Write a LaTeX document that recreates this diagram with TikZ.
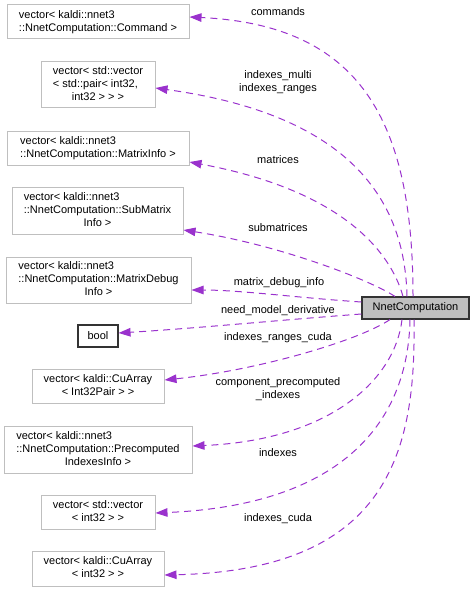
\documentclass[tikz,border=0pt]{standalone}
\usepackage{fontspec}
\setmainfont{Liberation Sans}
\usetikzlibrary{arrows.meta}
\definecolor{edgec}{HTML}{9A32CD}
\definecolor{boxg}{HTML}{BFBFBF}
\newcommand{\lastc}[1]{\multicolumn{1}{@{}c@{}}{#1}}
\begin{document}
\begin{tikzpicture}[x=1pt,y=-1pt,
  every node/.style={font=\fontsize{11}{13}\selectfont, inner sep=0pt},
  cls/.style={draw=boxg, line width=1pt, fill=white},
  mainbox/.style={draw=black!80, line width=1.1pt, fill=boxg},
  plainbox/.style={draw=black!80, line width=1.1pt, fill=white},
  rel/.style={draw=edgec, line width=1pt, dash pattern=on 7pt off 5pt,
    -{Triangle[length=12pt,width=8.5pt]}},
  lbl/.style={align=center, fill=none}
]
\useasboundingbox (0,0) rectangle (474,591);

% nodes
\node[cls, minimum width=182pt, minimum height=34pt] (cmd) at (98,22)
  {\begin{tabular}{@{}l@{}}vector< kaldi::nnet3\\\lastc{::NnetComputation::Command >}\end{tabular}};
\node[cls, minimum width=114pt, minimum height=46pt] (pair) at (98,85)
  {\begin{tabular}{@{}l@{}}vector< std::vector\\< std::pair< int32,\\\lastc{int32 > > >}\end{tabular}};
\node[cls, minimum width=182pt, minimum height=34pt] (minfo) at (98,148)
  {\begin{tabular}{@{}l@{}}vector< kaldi::nnet3\\\lastc{::NnetComputation::MatrixInfo >}\end{tabular}};
\node[cls, minimum width=171pt, minimum height=47pt] (subm) at (97.5,210.5)
  {\begin{tabular}{@{}l@{}}vector< kaldi::nnet3\\::NnetComputation::SubMatrix\\\lastc{Info >}\end{tabular}};
\node[cls, minimum width=185pt, minimum height=46pt] (mdbg) at (98.5,280)
  {\begin{tabular}{@{}l@{}}vector< kaldi::nnet3\\::NnetComputation::MatrixDebug\\\lastc{Info >}\end{tabular}};
\node[plainbox, minimum width=40pt, minimum height=22pt] (bool) at (98,336) {bool};
\node[cls, minimum width=132pt, minimum height=34pt] (cuip) at (98,386)
  {\begin{tabular}{@{}l@{}}vector< kaldi::CuArray\\\lastc{< Int32Pair > >}\end{tabular}};
\node[cls, minimum width=188pt, minimum height=47pt] (prec) at (98,449.5)
  {\begin{tabular}{@{}l@{}}vector< kaldi::nnet3\\::NnetComputation::Precomputed\\\lastc{IndexesInfo >}\end{tabular}};
\node[cls, minimum width=114pt, minimum height=34pt] (vint) at (98,512)
  {\begin{tabular}{@{}l@{}}vector< std::vector\\\lastc{< int32 > >}\end{tabular}};
\node[cls, minimum width=132pt, minimum height=35pt] (cuint) at (98,568.5)
  {\begin{tabular}{@{}l@{}}vector< kaldi::CuArray\\\lastc{< int32 > >}\end{tabular}};
\node[mainbox, minimum width=107pt, minimum height=22pt] (nnet) at (415.5,308) {NnetComputation};

% edges
\draw[rel] ([xshift=-2.5pt]nnet.north) .. controls (413,120) and (360,25) .. ([yshift=5pt]cmd.east);
\draw[rel] ([xshift=-8.5pt]nnet.north) .. controls (405,200) and (350,115) .. ([yshift=-3pt]pair.east);
\draw[rel] ([xshift=-12.5pt]nnet.north) .. controls (390,250) and (340,190) .. ([yshift=-14pt]minfo.east);
\draw[rel] ([xshift=-20.5pt]nnet.north) .. controls (370,280) and (280,245) .. ([yshift=-19.5pt]subm.east);
\draw[rel] ([yshift=6pt]nnet.west) .. controls (300,298) and (240,290) .. ([yshift=-10pt]mdbg.east);
\draw[rel] ([yshift=-6pt]nnet.west) .. controls (280,320) and (200,328) .. ([yshift=3pt]bool.east);
\draw[rel] ([xshift=-25.5pt]nnet.south) .. controls (360,340) and (260,370) .. ([yshift=6pt]cuip.east);
\draw[rel] ([xshift=-13.5pt]nnet.south) .. controls (395,380) and (330,440) .. ([yshift=3.5pt]prec.east);
\draw[rel] ([xshift=-5.5pt]nnet.south) .. controls (408,420) and (345,505) .. ([yshift=-1pt]vint.east);
\draw[rel] ([xshift=-1.5pt]nnet.south) .. controls (416,450) and (390,570) .. ([yshift=-6.5pt]cuint.east);

% labels
\node[lbl] (lcmd) at (278,12) {commands};
\node[lbl] (lpair) at (278,82) {indexes\_multi\\indexes\_ranges};
\node[lbl] (lminfo) at (278,160) {matrices};
\node[lbl] (lsubm) at (278,228) {submatrices};
\node[lbl] (lmdbg) at (279,283) {matrix\_debug\_info};
\node[lbl] (lbool) at (278,311) {need\_model\_derivative};
\node[lbl] (lcuip) at (278,338) {indexes\_ranges\_cuda};
\node[lbl] (lprec) at (278,389) {component\_precomputed\\\_indexes};
\node[lbl] (lvint) at (278,453) {indexes};
\node[lbl] (lcuint) at (278,519) {indexes\_cuda};
\end{tikzpicture}
\end{document}
